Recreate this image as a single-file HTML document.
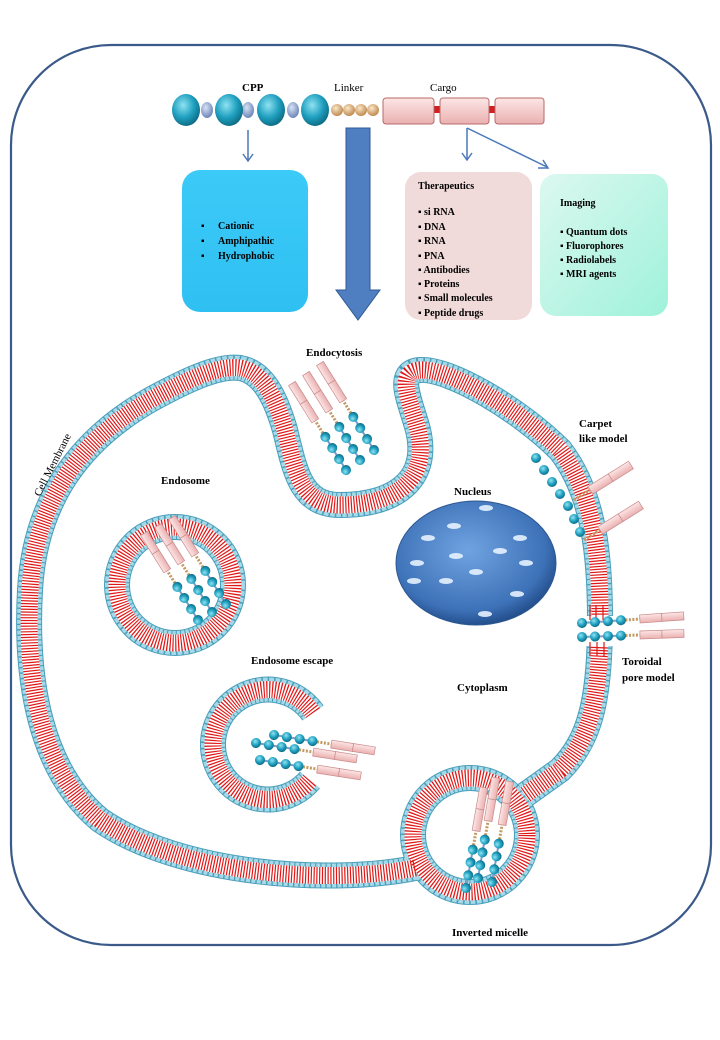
<!DOCTYPE html>
<html><head><meta charset="utf-8"><style>
html,body{margin:0;padding:0;background:#fff;}
svg{display:block;}
text{font-family:"Liberation Serif",serif;font-weight:bold;fill:#000;}
</style></head><body>
<svg width="720" height="1040" viewBox="0 0 720 1040" xmlns="http://www.w3.org/2000/svg">
<defs>
<radialGradient id="teal" cx="40%" cy="35%" r="65%"><stop offset="0" stop-color="#8fe3f2"/><stop offset="0.6" stop-color="#1f9fbf"/><stop offset="1" stop-color="#0f6f88"/></radialGradient>
<radialGradient id="sm" cx="40%" cy="35%" r="65%"><stop offset="0" stop-color="#d8e2f6"/><stop offset="1" stop-color="#6d87b8"/></radialGradient>
<radialGradient id="tan" cx="40%" cy="35%" r="65%"><stop offset="0" stop-color="#fbe7c8"/><stop offset="1" stop-color="#c08a50"/></radialGradient>
<linearGradient id="pink" x1="0" y1="0" x2="0" y2="1"><stop offset="0" stop-color="#fde6e6"/><stop offset="1" stop-color="#eab0b0"/></linearGradient>
<linearGradient id="bluebox" x1="0" y1="0" x2="0" y2="1"><stop offset="0" stop-color="#3ccaf8"/><stop offset="1" stop-color="#2fc0f2"/></linearGradient>
<linearGradient id="greenbox" x1="0" y1="0" x2="1" y2="1"><stop offset="0" stop-color="#dcf8f0"/><stop offset="1" stop-color="#9ff2da"/></linearGradient>
<radialGradient id="nuc" cx="45%" cy="40%" r="60%"><stop offset="0" stop-color="#6fa3e0"/><stop offset="0.8" stop-color="#3e72b8"/><stop offset="1" stop-color="#24508e"/></radialGradient>
<g id="chain">
<line x1="0" y1="0" x2="40" y2="0" stroke="#7d9cc8" stroke-width="2"/>
<line x1="40" y1="0" x2="58" y2="0" stroke="#c49a60" stroke-width="3" stroke-dasharray="2 1.5"/>
<circle cx="0" cy="0" r="5" fill="url(#teal)"/><circle cx="13" cy="0" r="5" fill="url(#teal)"/><circle cx="26" cy="0" r="5" fill="url(#teal)"/><circle cx="39" cy="0" r="5" fill="url(#teal)"/>
<rect x="58" y="-4" width="22" height="8" fill="url(#pink)" stroke="#c98a8a" stroke-width="0.7"/>
<rect x="80" y="-4" width="22" height="8" fill="url(#pink)" stroke="#c98a8a" stroke-width="0.7"/>
</g>
</defs>

<rect x="11" y="45" width="700" height="900" rx="100" fill="#fff" stroke="#3b5a8a" stroke-width="2.2"/>

<text x="242" y="91" font-size="11">CPP</text>
<text x="334" y="91" font-size="11" style="font-weight:normal">Linker</text>
<text x="430" y="91" font-size="11" style="font-weight:normal">Cargo</text>
<ellipse cx="207" cy="110" rx="6" ry="8" fill="url(#sm)"/>
<ellipse cx="248" cy="110" rx="6" ry="8" fill="url(#sm)"/>
<ellipse cx="293" cy="110" rx="6" ry="8" fill="url(#sm)"/>
<ellipse cx="186" cy="110" rx="14" ry="16" fill="url(#teal)"/>
<ellipse cx="229" cy="110" rx="14" ry="16" fill="url(#teal)"/>
<ellipse cx="271" cy="110" rx="14" ry="16" fill="url(#teal)"/>
<ellipse cx="315" cy="110" rx="14" ry="16" fill="url(#teal)"/>
<circle cx="337" cy="110" r="6" fill="url(#tan)"/><circle cx="349" cy="110" r="6" fill="url(#tan)"/><circle cx="361" cy="110" r="6" fill="url(#tan)"/><circle cx="373" cy="110" r="6" fill="url(#tan)"/>
<rect x="434" y="106" width="8" height="7" fill="#d02020"/><rect x="488" y="106" width="8" height="7" fill="#d02020"/>
<rect x="383" y="98" width="51" height="26" rx="3" fill="url(#pink)" stroke="#b86a6a"/>
<rect x="440" y="98" width="49" height="26" rx="3" fill="url(#pink)" stroke="#b86a6a"/>
<rect x="495" y="98" width="49" height="26" rx="3" fill="url(#pink)" stroke="#b86a6a"/>

<g stroke="#4a78b8" stroke-width="1.5" fill="none">
<line x1="248" y1="130" x2="248" y2="160"/><polyline points="243,154 248,161 253,154"/>
<line x1="467" y1="128" x2="467" y2="159"/><polyline points="462,153 467,160 472,153"/>
<line x1="467" y1="128" x2="547" y2="167"/><polyline points="538,168 548,168 543,160"/>
</g>
<path d="M346,128 H370 V290 H380 L358,320 L336,290 H346 Z" fill="#4f7fc0" stroke="#2f5a96" stroke-width="1"/>

<rect x="182" y="170" width="126" height="142" rx="18" fill="url(#bluebox)"/>
<g font-size="10"><text x="201" y="229">▪</text><text x="218" y="229">Cationic</text>
<text x="201" y="244">▪</text><text x="218" y="244">Amphipathic</text>
<text x="201" y="259">▪</text><text x="218" y="259">Hydrophobic</text></g>
<rect x="405" y="172" width="127" height="148" rx="16" fill="#f1dada"/>
<g font-size="10"><text x="418" y="189">Therapeutics</text>
<text x="418" y="215">▪ si RNA</text><text x="418" y="230">▪ DNA</text><text x="418" y="244">▪ RNA</text><text x="418" y="259">▪ PNA</text><text x="418" y="273">▪ Antibodies</text><text x="418" y="287">▪ Proteins</text><text x="418" y="301">▪ Small molecules</text><text x="418" y="316">▪ Peptide drugs</text></g>
<rect x="540" y="174" width="128" height="142" rx="16" fill="url(#greenbox)"/>
<g font-size="10"><text x="560" y="206">Imaging</text>
<text x="560" y="235">▪ Quantum dots</text><text x="560" y="249">▪ Fluorophores</text><text x="560" y="263">▪ Radiolabels</text><text x="560" y="277">▪ MRI agents</text></g>

<defs>
<path id="mp" d="M 415,868 C 330,885 180,875 100,820 C 40,770 25,680 30,590 C 35,500 80,440 150,400 C 190,378 220,365 240,368 C 262,372 275,395 285,430 C 295,470 300,505 340,505 C 395,505 430,480 418,430 C 410,400 395,372 420,370 C 450,368 520,410 560,450 C 595,495 600,560 600,620 C 600,700 590,740 560,770 L 525,795"/>
</defs>
<g fill="none">
<g stroke="#4a9fba" stroke-width="26">
<use href="#mp"/><circle cx="175" cy="585" r="58"/><path d="M313,713 A55,55 0 1 0 310,780"/><circle cx="470" cy="835" r="57"/>
</g>
<g stroke="#a6d9e8" stroke-width="24" stroke-dasharray="4 1.3">
<use href="#mp"/><circle cx="175" cy="585" r="58"/><path d="M313,713 A55,55 0 1 0 310,780"/><circle cx="470" cy="835" r="57"/>
</g>
<g stroke="#fff" stroke-width="17">
<use href="#mp"/><circle cx="175" cy="585" r="58"/><path d="M313,713 A55,55 0 1 0 310,780"/><circle cx="470" cy="835" r="57"/>
</g>
<g stroke="#e01818" stroke-width="17" stroke-dasharray="1.2 1.6">
<use href="#mp"/><circle cx="175" cy="585" r="58"/><path d="M313,713 A55,55 0 1 0 310,780"/><circle cx="470" cy="835" r="57"/>
</g>
</g>
<rect x="585" y="616" width="32" height="30" fill="#fff"/>
<g stroke="#e01818" stroke-width="1.2"><line x1="590" y1="605" x2="590" y2="620"/><line x1="596" y1="605" x2="596" y2="620"/><line x1="603" y1="605" x2="603" y2="620"/><line x1="590" y1="642" x2="590" y2="656"/><line x1="597" y1="642" x2="597" y2="656"/><line x1="604" y1="642" x2="604" y2="656"/></g>

<ellipse cx="476" cy="563" rx="80" ry="62" fill="url(#nuc)" stroke="#2c5790"/>
<g fill="#e6f2ff" opacity="0.9">
<ellipse cx="454" cy="526" rx="7" ry="3"/><ellipse cx="486" cy="508" rx="7" ry="3"/><ellipse cx="428" cy="538" rx="7" ry="3"/><ellipse cx="520" cy="538" rx="7" ry="3"/><ellipse cx="500" cy="551" rx="7" ry="3"/><ellipse cx="456" cy="556" rx="7" ry="3"/><ellipse cx="417" cy="563" rx="7" ry="3"/><ellipse cx="526" cy="563" rx="7" ry="3"/><ellipse cx="476" cy="572" rx="7" ry="3"/><ellipse cx="414" cy="581" rx="7" ry="3"/><ellipse cx="446" cy="581" rx="7" ry="3"/><ellipse cx="517" cy="594" rx="7" ry="3"/><ellipse cx="485" cy="614" rx="7" ry="3"/>
</g>

<use href="#chain" transform="translate(346,470) rotate(-122)"/>
<use href="#chain" transform="translate(360,460) rotate(-122)"/>
<use href="#chain" transform="translate(374,450) rotate(-122)"/>
<use href="#chain" transform="translate(198,620) rotate(-122)"/>
<use href="#chain" transform="translate(212,612) rotate(-122)"/>
<use href="#chain" transform="translate(226,604) rotate(-122)"/>
<use href="#chain" transform="translate(256,743) rotate(9)"/>
<use href="#chain" transform="translate(274,735) rotate(9)"/>
<use href="#chain" transform="translate(260,760) rotate(9)"/>
<use href="#chain" transform="translate(466,888) rotate(-80)"/>
<use href="#chain" transform="translate(478,878) rotate(-80)"/>
<use href="#chain" transform="translate(492,882) rotate(-80)"/>
<g fill="url(#teal)"><circle cx="536" cy="458" r="5"/><circle cx="544" cy="470" r="5"/><circle cx="552" cy="482" r="5"/><circle cx="560" cy="494" r="5"/><circle cx="568" cy="506" r="5"/><circle cx="574" cy="519" r="5"/><circle cx="580" cy="532" r="5"/></g>
<g stroke="#c49a60" stroke-width="3" stroke-dasharray="2 1.5"><line x1="574" y1="500" x2="590" y2="490"/><line x1="584" y1="540" x2="600" y2="530"/></g>
<g transform="translate(590,490) rotate(-32)"><rect x="0" y="-4" width="24" height="9" fill="url(#pink)" stroke="#c98a8a" stroke-width="0.7"/><rect x="24" y="-4" width="24" height="9" fill="url(#pink)" stroke="#c98a8a" stroke-width="0.7"/></g>
<g transform="translate(600,530) rotate(-32)"><rect x="0" y="-4" width="24" height="9" fill="url(#pink)" stroke="#c98a8a" stroke-width="0.7"/><rect x="24" y="-4" width="24" height="9" fill="url(#pink)" stroke="#c98a8a" stroke-width="0.7"/></g>
<use href="#chain" transform="translate(582,623) rotate(-4)"/>
<use href="#chain" transform="translate(582,637) rotate(-2)"/>

<g font-size="11">
<text x="306" y="356">Endocytosis</text>
<text x="161" y="484">Endosome</text>
<text x="454" y="495">Nucleus</text>
<text x="579" y="427">Carpet</text><text x="579" y="442">like model</text>
<text x="251" y="664">Endosome escape</text>
<text x="457" y="691">Cytoplasm</text>
<text x="622" y="665">Toroidal</text><text x="622" y="681">pore model</text>
<text x="452" y="936">Inverted micelle</text>
<text x="0" y="0" transform="translate(40,497) rotate(-63)" style="font-weight:normal">Cell Membrane</text>
</g>
</svg>
</body></html>
